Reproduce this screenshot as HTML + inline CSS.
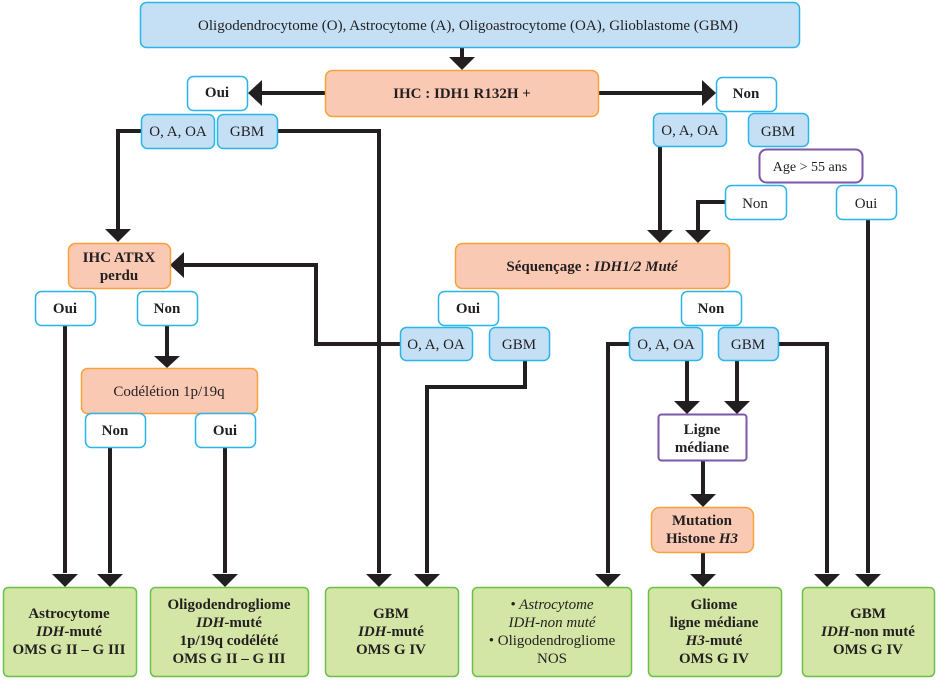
<!DOCTYPE html>
<html><head><meta charset="utf-8"><style>
html,body{margin:0;padding:0;background:#fff;}
svg{display:block;}
text{font-family:"Liberation Serif",serif;fill:#231f20;}
.b{font-weight:bold;}
</style></head><body>
<svg width="939" height="682" viewBox="0 0 939 682" xmlns="http://www.w3.org/2000/svg">
<g fill="none" stroke="#231f20" stroke-width="4">
<path d="M462 47 V62"/>
<path d="M325 93 H262"/>
<path d="M598 93 H702"/>
<path d="M141 131 H118 V230"/>
<path d="M277 131 H379 V573"/>
<path d="M660 146 V231"/>
<path d="M725 202 H698 V231"/>
<path d="M868 219 V573"/>
<path d="M400 344 H316 V265 H184"/>
<path d="M525 360 V387 H427 V573"/>
<path d="M629 344 H608 V573"/>
<path d="M687 360 V402"/>
<path d="M737 360 V402"/>
<path d="M778 344 H827 V573"/>
<path d="M703 460 V496"/>
<path d="M703 552 V575"/>
<path d="M65 325 V573"/>
<path d="M167 325 V357"/>
<path d="M110 447 V573"/>
<path d="M225 447 V573"/>
</g>
<g fill="#231f20">
<polygon points="449,57 475,57 462,70"/>
<polygon points="105,229 131,229 118,242"/>
<polygon points="647,230 673,230 660,243"/>
<polygon points="685,230 711,230 698,243"/>
<polygon points="154,356 180,356 167,368"/>
<polygon points="52,574 78,574 65,587"/>
<polygon points="97,574 123,574 110,587"/>
<polygon points="212,574 238,574 225,587"/>
<polygon points="366,574 392,574 379,587"/>
<polygon points="414,574 440,574 427,587"/>
<polygon points="595,574 621,574 608,587"/>
<polygon points="814,574 840,574 827,587"/>
<polygon points="855,574 881,574 868,587"/>
<polygon points="674,401 700,401 687,414"/>
<polygon points="724,401 750,401 737,414"/>
<polygon points="690,494 716,494 703,507"/>
<polygon points="690,574 716,574 703,587"/>
<polygon points="262,80 262,106 248,93"/>
<polygon points="702,80 702,106 716,93"/>
<polygon points="184,252 184,278 170,265"/>
</g>
<g stroke-width="1.5">
<rect x="140.5" y="2.5" width="659" height="45" rx="6" fill="#c5e0f5" stroke="#29b5ea"/>
<rect x="325.5" y="70.5" width="273" height="46" rx="7" fill="#fac9b4" stroke="#f7a23b"/>
<rect x="187.5" y="76.5" width="60" height="34" rx="6" fill="#fff" stroke="#29b5ea"/>
<rect x="716.5" y="77.5" width="60" height="34" rx="6" fill="#fff" stroke="#29b5ea"/>
<rect x="141.5" y="114.5" width="73" height="34" rx="6" fill="#c5e0f5" stroke="#29b5ea"/>
<rect x="217.5" y="114.5" width="60" height="34" rx="6" fill="#c5e0f5" stroke="#29b5ea"/>
<rect x="653.5" y="113.5" width="73" height="33" rx="6" fill="#c5e0f5" stroke="#29b5ea"/>
<rect x="748.5" y="113.5" width="60" height="33" rx="6" fill="#c5e0f5" stroke="#29b5ea"/>
<rect x="759.5" y="149.5" width="103" height="33" rx="7" fill="#fff" stroke="#7d57a8" stroke-width="2"/>
<rect x="725.5" y="185.5" width="61" height="34" rx="6" fill="#fff" stroke="#29b5ea"/>
<rect x="836.5" y="185.5" width="60" height="34" rx="6" fill="#fff" stroke="#29b5ea"/>
<rect x="68.5" y="243.5" width="102" height="45" rx="7" fill="#fac9b4" stroke="#f7a23b"/>
<rect x="455.5" y="243.5" width="274" height="45" rx="7" fill="#fac9b4" stroke="#f7a23b"/>
<rect x="35.5" y="291.5" width="60" height="34" rx="6" fill="#fff" stroke="#29b5ea"/>
<rect x="137.5" y="291.5" width="60" height="34" rx="6" fill="#fff" stroke="#29b5ea"/>
<rect x="438.5" y="291.5" width="60" height="34" rx="6" fill="#fff" stroke="#29b5ea"/>
<rect x="681.5" y="291.5" width="60" height="34" rx="6" fill="#fff" stroke="#29b5ea"/>
<rect x="400.5" y="327.5" width="72" height="33" rx="6" fill="#c5e0f5" stroke="#29b5ea"/>
<rect x="489.5" y="327.5" width="60" height="33" rx="6" fill="#c5e0f5" stroke="#29b5ea"/>
<rect x="629.5" y="327.5" width="73" height="33" rx="6" fill="#c5e0f5" stroke="#29b5ea"/>
<rect x="718.5" y="327.5" width="60" height="33" rx="6" fill="#c5e0f5" stroke="#29b5ea"/>
<rect x="81.5" y="368.5" width="176" height="45" rx="6" fill="#fac9b4" stroke="#f7a23b"/>
<rect x="85.5" y="413.5" width="60" height="34" rx="6" fill="#fff" stroke="#29b5ea"/>
<rect x="195.5" y="413.5" width="60" height="34" rx="6" fill="#fff" stroke="#29b5ea"/>
<rect x="658.5" y="414.5" width="88" height="46" rx="3" fill="#fff" stroke="#7d57a8" stroke-width="2"/>
<rect x="651.5" y="507.5" width="102" height="45" rx="8" fill="#fac9b4" stroke="#f7a23b"/>
<g fill="#d3e6a5" stroke="#6cbf4a">
<rect x="3.5" y="587.5" width="133" height="89" rx="5"/>
<rect x="150.5" y="587.5" width="158" height="89" rx="5"/>
<rect x="325.5" y="587.5" width="133" height="89" rx="5"/>
<rect x="472.5" y="587.5" width="159" height="89" rx="5"/>
<rect x="648.5" y="587.5" width="133" height="89" rx="5"/>
<rect x="802.5" y="587.5" width="132" height="89" rx="5"/>
</g>
</g>
<g font-size="15" text-anchor="middle">
<text x="468" y="30">Oligodendrocytome (O), Astrocytome (A), Oligoastrocytome (OA), Glioblastome (GBM)</text>
<text x="462" y="98" class="b">IHC : IDH1 R132H +</text>
<text x="217" y="97" class="b">Oui</text>
<text x="746" y="98" class="b">Non</text>
<text x="178" y="136">O, A, OA</text>
<text x="247" y="136">GBM</text>
<text x="690" y="135">O, A, OA</text>
<text x="778" y="136">GBM</text>
<text x="810" y="171" font-size="14">Age &gt; 55 ans</text>
<text x="755" y="208">Non</text>
<text x="866" y="208">Oui</text>
<text x="119" y="262" class="b">IHC ATRX</text>
<text x="119" y="280" class="b">perdu</text>
<text x="592" y="271" class="b">Séquençage : <tspan font-style="italic">IDH1/2 Muté</tspan></text>
<text x="65" y="313" class="b">Oui</text>
<text x="167" y="313" class="b">Non</text>
<text x="468" y="313" class="b">Oui</text>
<text x="711" y="313" class="b">Non</text>
<text x="436" y="349">O, A, OA</text>
<text x="519" y="349">GBM</text>
<text x="666" y="349">O, A, OA</text>
<text x="748" y="349">GBM</text>
<text x="169" y="396">Codélétion 1p/19q</text>
<text x="115" y="435" class="b">Non</text>
<text x="225" y="435" class="b">Oui</text>
<text x="702" y="434" class="b">Ligne</text>
<text x="702" y="452" class="b">médiane</text>
<text x="702" y="525" class="b">Mutation</text>
<text x="702" y="543" class="b">Histone <tspan font-style="italic">H3</tspan></text>
<g class="b">
<text x="69" y="618">Astrocytome</text>
<text x="69" y="636"><tspan font-style="italic">IDH</tspan>-muté</text>
<text x="69" y="654">OMS G II – G III</text>
<text x="229" y="609">Oligodendrogliome</text>
<text x="229" y="627"><tspan font-style="italic">IDH</tspan>-muté</text>
<text x="229" y="645">1p/19q codélété</text>
<text x="229" y="663">OMS G II – G III</text>
<text x="391" y="618">GBM</text>
<text x="391" y="636"><tspan font-style="italic">IDH</tspan>-muté</text>
<text x="391" y="654">OMS G IV</text>
<text x="714" y="609">Gliome</text>
<text x="714" y="627">ligne médiane</text>
<text x="714" y="645"><tspan font-style="italic">H3</tspan>-muté</text>
<text x="714" y="663">OMS G IV</text>
<text x="868" y="618">GBM</text>
<text x="868" y="636"><tspan font-style="italic">IDH</tspan>-non muté</text>
<text x="868" y="654">OMS G IV</text>
</g>
<text x="552" y="609" font-style="italic">• Astrocytome</text>
<text x="552" y="627" font-style="italic">IDH-non muté</text>
<text x="552" y="645">• Oligodendrogliome</text>
<text x="552" y="663">NOS</text>
</g>
</svg>
</body></html>
